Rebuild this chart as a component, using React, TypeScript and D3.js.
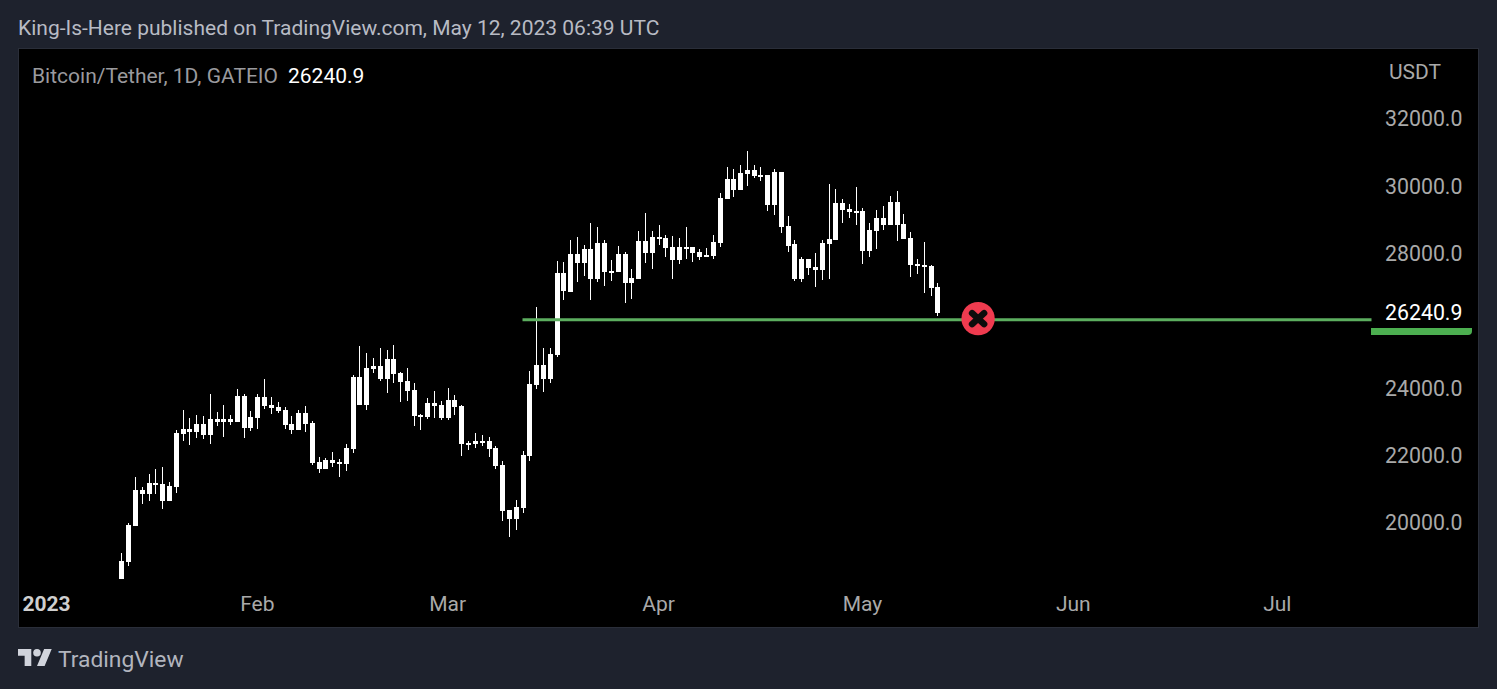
import React from "react";
import * as d3 from "d3";

const firstDay = new Date(Date.UTC(2023, 0, 12));
const wickHigh = [19099,19990,21366,21069,21455,21604,21663,21218,22762,23356,23118,23207,23178,23831,23297,23505,23207,23980,23831,23326,23831,24277,23742,23594,23445,23178,23356,23475,23029,21960,21930,
22109,21901,22346,24396,25257,25049,24900,25197,25138,25286,24485,24603,24158,23237,23712,23920,23623,24009,23801,23504,22435,22673,22613,22554,22287,21841,20386,20683,22138,24514,26415,25197,25197,
27781,27752,28405,28494,28256,28910,28791,28405,27811,28227,28049,27544,28672,29207,28672,28850,28553,28524,28464,28791,28197,28138,28167,28553,
29801,30573,30514,30632,31048,30632,30573,30335,30514,30425,29118,28405,27900,27841,28019,28405,30068,29920,29623,29474,29979,29355,28910,29296,29415,29712,29860,29177,28643,27841,28346,27663,27128];
const bodyTop = [18871,19941,20980,20980,21188,21188,21158,21099,22673,22792,22792,22940,22940,23089,23089,23089,23089,23772,23772,23148,23742,23742,23505,23445,23356,22940,23267,23267,22970,21812,21871,
21871,21812,22227,24336,24336,24603,24663,24663,24871,24871,24455,24217,23950,23207,23564,23564,23504,23653,23653,23475,22376,22435,22435,22435,22227,21722,20386,20475,22019,24128,24692,24692,25019,
27425,27425,27989,27989,28138,28138,28316,28316,27484,27989,27989,27276,28375,28375,28494,28494,28464,28197,28197,28197,28197,28049,27959,28346,
29652,30217,30217,30395,30484,30484,30335,30335,30425,30425,28821,28286,27841,27841,27603,28316,28435,29504,29504,29326,29266,29266,28702,29058,29058,29534,29534,28880,28464,27692,27663,27633,27009];
const bodyBottom = [18337,18842,19911,20861,20861,21129,20653,20653,21069,22643,22703,22703,22614,22614,23000,23000,23000,23000,22821,22821,23118,23475,23415,23326,22910,22762,22762,22940,21782,21604,21604,
21782,21752,21752,22198,23504,23504,24574,24277,24277,24425,24188,23920,23178,23148,23148,23475,23118,23118,23445,22346,22346,22346,22406,22198,21693,20356,20119,20119,20445,21990,24098,24277,24277,
24989,26890,26870,27722,27722,27247,27247,27455,27455,27455,27128,27128,27247,28019,28019,28435,28167,27811,27811,28167,28019,27900,27900,27930,
28316,29623,29890,29890,30365,30306,30306,29445,29445,28791,28227,27247,27247,27573,27514,27514,28286,28405,29296,29237,29237,28078,28078,28672,28850,28850,28850,28435,27663,27663,27603,26979,26237];
const wickLow = [18337,18723,19911,20564,20653,20861,20416,20653,20891,22435,22317,22524,22495,22346,22881,22554,22910,23000,22524,22732,22792,23386,23237,23267,22792,22643,22762,22703,21723,21485,21604,
21663,21366,21544,22079,23504,23356,24455,24217,23861,24158,23594,23623,22881,22762,23089,23118,23059,23059,23207,21990,22168,22227,22287,21960,21604,20059,19584,19792,20297,21841,23980,23891,24158,
24930,26623,26861,27158,27336,26623,27158,27039,27187,27455,26534,26653,27247,27722,27544,28256,27900,27247,27692,27841,27752,27811,27900,27841,
28197,29623,29682,29890,30009,30246,30157,29266,29147,28613,28049,27187,27158,27365,27009,27217,27247,28405,28910,29058,28850,27692,27900,28138,28702,28850,28375,28435,27306,27395,26831,26742,26148];

const priceTicks = [32000, 30000, 28000, 24000, 22000, 20000];
const lastPrice = 26240.9;
const levelPrice = 26040;
const levelStart = new Date(Date.UTC(2023, 2, 12));
const levelEnd = new Date(Date.UTC(2023, 6, 15));
const markerDate = new Date(Date.UTC(2023, 4, 18));
const timeTicks: [Date, string][] = [
  [new Date(Date.UTC(2023, 0, 1)), "2023"],
  [new Date(Date.UTC(2023, 1, 1)), "Feb"],
  [new Date(Date.UTC(2023, 2, 1)), "Mar"],
  [new Date(Date.UTC(2023, 3, 1)), "Apr"],
  [new Date(Date.UTC(2023, 4, 1)), "May"],
  [new Date(Date.UTC(2023, 5, 1)), "Jun"],
  [new Date(Date.UTC(2023, 6, 1)), "Jul"],
];

const DAY = 86400000;
const x = d3.scaleUtc()
  .domain([firstDay, new Date(firstDay.getTime() + 120 * DAY)])
  .range([121.3, 937.3]);
const y = d3.scaleLinear().domain([20000, 32000]).range([523, 119]);

const FONT = "Roboto, sans-serif";
const GREEN = "#4caf50";
const AXIS = "#a9a9a9";

export default function App() {
  return (
    <svg width={1497} height={689} style={{ position: "absolute", left: 0, top: 0, display: "block", background: "#1e222d" }} fontFamily={FONT}>
      <text x={18} y={35} fontSize={21} fill="#b8bbc4">King-Is-Here published on TradingView.com, May 12, 2023 06:39 UTC</text>
      <rect x={18.5} y={48.5} width={1460} height={579} fill="#000" stroke="#2a2e39" />

      <text x={32} y={83} fontSize={21} fill="#9a9a9e">Bitcoin/Tether, 1D, GATEIO</text>
      <text x={288} y={83} fontSize={21} fill="#fff">{lastPrice}</text>
      <text x={1389} y={79} fontSize={21} fill={AXIS}>USDT</text>

      <g shapeRendering="crispEdges" fill="#fff">
        {wickHigh.map((h, i) => {
          const cx = Math.round(x(new Date(firstDay.getTime() + i * DAY)));
          const top = Math.round(y(bodyTop[i]));
          const bot = Math.round(y(bodyBottom[i]));
          const wt = Math.round(y(h));
          const wb = Math.round(y(wickLow[i]));
          return (
            <g key={i}>
              <rect x={cx} y={wt} width={1} height={Math.max(0, wb - wt)} />
              <rect x={cx - 2} y={top} width={5} height={Math.max(2, bot - top)} />
            </g>
          );
        })}
      </g>

      <line x1={x(levelStart)} x2={x(levelEnd) - 1} y1={y(levelPrice)} y2={y(levelPrice)} stroke="#5cae5f" strokeWidth={3} />
      <path d="M1371 328 H1472 V331 Q1472 335 1468 335 H1371 Z" fill={GREEN} />

      <circle cx={x(markerDate)} cy={y(levelPrice) - 1} r={16.7} fill="#ef3b4f" />
      <g transform={`translate(${x(markerDate)},${y(levelPrice) - 1})`} stroke="#0c0c0c" strokeWidth={6.5} strokeLinecap="round">
        <line x1={-6} y1={-5.5} x2={6} y2={5.5} />
        <line x1={-6} y1={5.5} x2={6} y2={-5.5} />
      </g>

      <g fontSize={21.3} fill={AXIS}>
        {priceTicks.map((p) => (
          <text key={p} x={1385} y={y(p) + 7.3}>{p.toFixed(1)}</text>
        ))}
      </g>
      <text x={1385} y={y(lastPrice) + 7.3} fontSize={21.3} fill="#fff">{lastPrice.toFixed(1)}</text>

      <g fontSize={21} fill={AXIS} textAnchor="middle">
        {timeTicks.map(([d, s], i) => (
          <text key={s} x={x(d)} y={611} fontWeight={i === 0 ? 700 : 400} fill={i === 0 ? "#cfcfcf" : AXIS}>{s}</text>
        ))}
      </g>

      <g transform="translate(18,645.2) scale(0.95)" fill="#d1d4dc">
        <path d="M14 22H7V11H0V4h14v18zM28 22h-8l7.5-18h8L28 22z" />
        <circle cx={20} cy={8} r={4} />
      </g>
      <text x={58} y={667} fontSize={22.8} fill="#b2b5be">TradingView</text>
    </svg>
  );
}
